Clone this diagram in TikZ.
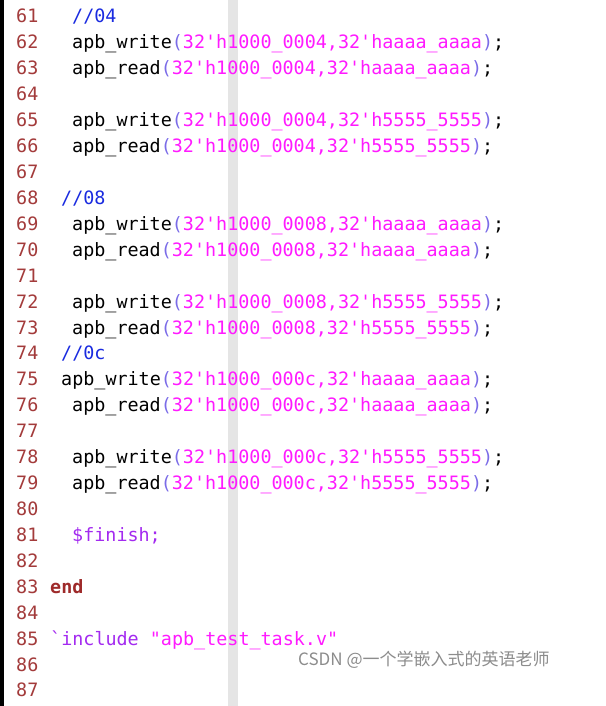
\documentclass[tikz,border=0pt]{standalone}
\usepackage{fontspec}
\setmonofont{DejaVu Sans Mono}
\newfontfamily\cjk{Noto Sans CJK SC}
\definecolor{lnum}{HTML}{A33B3B}
\definecolor{par}{HTML}{7B6CE8}
\definecolor{str}{HTML}{FF1AFF}
\definecolor{cmt}{HTML}{1A2BE0}
\definecolor{purp}{HTML}{A32AF0}
\definecolor{kw}{HTML}{9E2A2A}
\newcommand{\Pa}[1]{\textcolor{par}{#1}}
\newcommand{\Sx}[1]{\textcolor{str}{#1}}
\newcommand{\Wr}[2]{apb\_write\Pa{(}\Sx{32'h1000\_#1,32'h#2}\Pa{)};}
\newcommand{\Rd}[2]{apb\_read\Pa{(}\Sx{32'h1000\_#1,32'h#2}\Pa{)};}
\tikzset{code/.style={anchor=base west,inner sep=0pt,font=\ttfamily\fontsize{18.4}{20}\selectfont},
 num/.style={code,text=lnum}}
\begin{document}
\begin{tikzpicture}[x=1pt,y=-1pt]
\useasboundingbox (0,0) rectangle (605,706);
\fill[white] (0,0) rectangle (605,706);
\fill[black] (0,0) rectangle (4,706);
\fill[black!10] (228,0) rectangle (238,706);
\foreach \n in {61,...,87}{
  \node[num] (n\n) at (16,{23+25.92*(\n-61)}) {\n};
}
\def\Y#1{{23+25.92*(#1-61)}}
\node[code,text=cmt] (l61) at (72,\Y{61}) {//04};
\node[code] (l62) at (72,\Y{62}) {\Wr{0004}{aaaa\_aaaa}};
\node[code] (l63) at (72,\Y{63}) {\Rd{0004}{aaaa\_aaaa}};
\node[code] (l65) at (72,\Y{65}) {\Wr{0004}{5555\_5555}};
\node[code] (l66) at (72,\Y{66}) {\Rd{0004}{5555\_5555}};
\node[code,text=cmt] (l68) at (61,\Y{68}) {//08};
\node[code] (l69) at (72,\Y{69}) {\Wr{0008}{aaaa\_aaaa}};
\node[code] (l70) at (72,\Y{70}) {\Rd{0008}{aaaa\_aaaa}};
\node[code] (l72) at (72,\Y{72}) {\Wr{0008}{5555\_5555}};
\node[code] (l73) at (72,\Y{73}) {\Rd{0008}{5555\_5555}};
\node[code,text=cmt] (l74) at (61,\Y{74}) {//0c};
\node[code] (l75) at (61,\Y{75}) {\Wr{000c}{aaaa\_aaaa}};
\node[code] (l76) at (72,\Y{76}) {\Rd{000c}{aaaa\_aaaa}};
\node[code] (l78) at (72,\Y{78}) {\Wr{000c}{5555\_5555}};
\node[code] (l79) at (72,\Y{79}) {\Rd{000c}{5555\_5555}};
\node[code,text=purp] (l81) at (72,\Y{81}) {\$finish;};
\node[code,text=kw,font=\ttfamily\bfseries\fontsize{18.4}{20}\selectfont] (l83) at (50,\Y{83}) {end};
\node[code] (l85) at (50,\Y{85}) {\textcolor{purp}{`include} \Sx{"apb\_test\_task.v"}};
\node[anchor=base west,inner sep=0pt,text=black!45,font=\cjk\fontsize{17}{20}\selectfont] (wm) at (298,665) {CSDN @一个学嵌入式的英语老师};
\end{tikzpicture}
\end{document}
